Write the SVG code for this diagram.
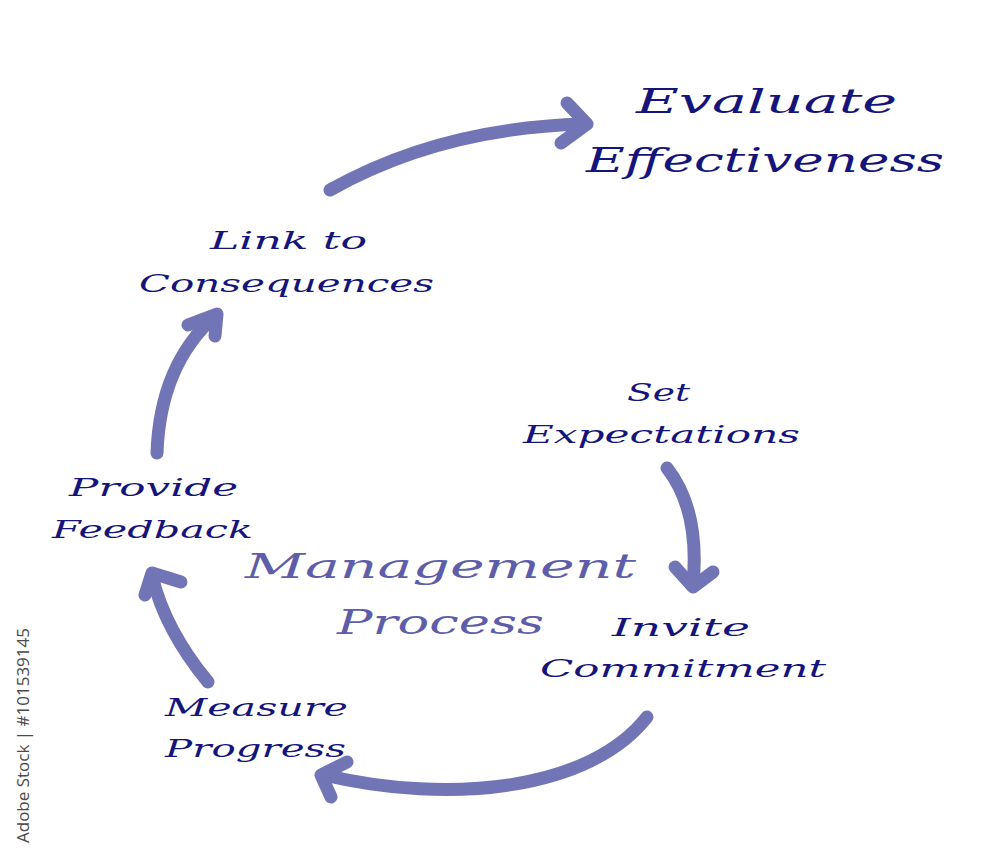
<svg xmlns="http://www.w3.org/2000/svg" width="1000" height="857" viewBox="0 0 1000 857">
<style>
.lbl{font-family:"DejaVu Serif","Liberation Serif",serif;font-style:italic;fill:#14147a;font-size:25px}
.big{font-size:34px}
.title{font-family:"DejaVu Serif","Liberation Serif",serif;font-style:italic;fill:#5d5daa;font-size:34px}
.arr{fill:none;stroke:#7175b5;stroke-width:13;stroke-linecap:round;stroke-linejoin:round}
.wm{font-family:"Open Sans","DejaVu Sans",sans-serif;fill:#4a4a4a;font-size:17px}
</style>
<rect width="1000" height="857" fill="#ffffff"/>
<g id="connectors">
<path class="arr" d="M330,190 Q440,128 584,124"/>
<path class="arr" d="M567,103 L587,124 L561,143"/>
<path class="arr" d="M667,468 Q700,510 693,584"/>
<path class="arr" d="M675,567 L693,587 L713,572"/>
<path class="arr" d="M647,717 C590,790 450,805 324,775"/>
<path class="arr" d="M347,762 L321,775 L331,797"/>
<path class="arr" d="M208,682 Q165,630 152,576"/>
<path class="arr" d="M145,595 L152,573 L181,582"/>
<path class="arr" d="M157,453 Q160,365 215,316"/>
<path class="arr" d="M188,325 L217,314 L215,336"/>
</g>
<g id="evaluate">
<text class="lbl big" x="636" y="113" textLength="261" lengthAdjust="spacingAndGlyphs">Evaluate</text>
<text class="lbl big" x="586" y="172" textLength="358" lengthAdjust="spacingAndGlyphs">Effectiveness</text>
</g>
<g id="link">
<text class="lbl" x="210" y="249" textLength="157" lengthAdjust="spacingAndGlyphs">Link to</text>
<text class="lbl" x="139" y="292" textLength="295" lengthAdjust="spacingAndGlyphs">Consequences</text>
</g>
<g id="set">
<text class="lbl" x="627" y="401" textLength="63" lengthAdjust="spacingAndGlyphs">Set</text>
<text class="lbl" x="523" y="443" textLength="277" lengthAdjust="spacingAndGlyphs">Expectations</text>
</g>
<g id="provide">
<text class="lbl" x="69" y="496" textLength="169" lengthAdjust="spacingAndGlyphs">Provide</text>
<text class="lbl" x="52" y="538" textLength="201" lengthAdjust="spacingAndGlyphs">Feedback</text>
</g>
<g id="management">
<text class="title" x="245" y="578" textLength="391" lengthAdjust="spacingAndGlyphs">Management</text>
<text class="title" x="337" y="634" textLength="207" lengthAdjust="spacingAndGlyphs">Process</text>
</g>
<g id="invite">
<text class="lbl" x="612" y="636" textLength="138" lengthAdjust="spacingAndGlyphs">Invite</text>
<text class="lbl" x="540" y="677" textLength="286" lengthAdjust="spacingAndGlyphs">Commitment</text>
</g>
<g id="measure">
<text class="lbl" x="165" y="716" textLength="183" lengthAdjust="spacingAndGlyphs">Measure</text>
<text class="lbl" x="165" y="757" textLength="181" lengthAdjust="spacingAndGlyphs">Progress</text>
</g>
<g id="watermark">
<text class="wm" transform="translate(29,843) rotate(-90)" textLength="215" lengthAdjust="spacingAndGlyphs">Adobe Stock | #101539145</text>
</g>
</svg>
